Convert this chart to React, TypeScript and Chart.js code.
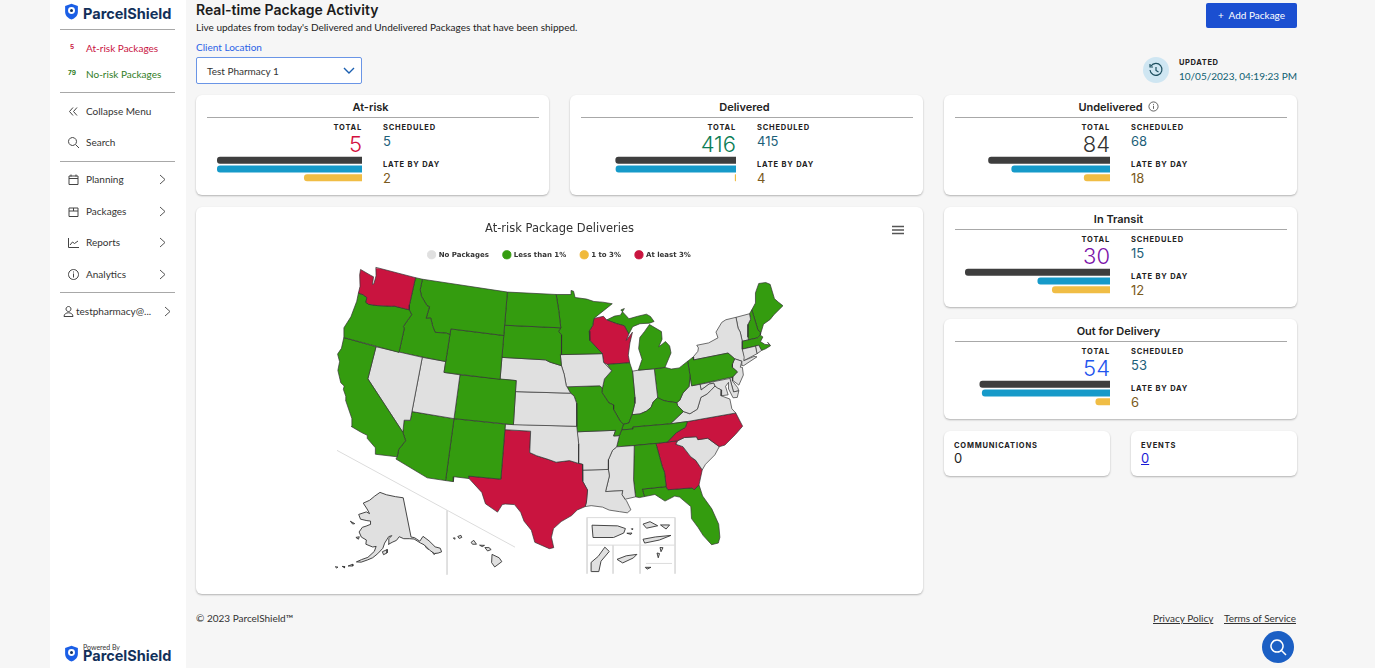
import { useEffect, useRef } from 'react';
import type { CSSProperties, ReactNode } from 'react';
import { Chart, registerables } from 'chart.js';

Chart.register(...registerables);

// package counts per card
const cardTitles = ['At-risk', 'Delivered', 'Undelivered', 'In Transit', 'Out for Delivery'];
const cardTotals = [5, 416, 84, 30, 54];
const cardScheduled = [5, 415, 68, 15, 53];
const cardLate = [2, 4, 18, 12, 6];
const cardAxisMax = [5, 500, 100, 30, 60];
const cardTotalColors = ['#d3103f', '#0b7d55', '#333333', '#7b12a8', '#1f55ee'];
const barLabels = ['Total', 'Scheduled', 'Late by day'];
const barColors = ['#3e3e3e', '#169ac9', '#f0bd45'];

const legendLabels = ['No Packages', 'Less than 1%', '1 to 3%', 'At least 3%'];
const legendColors = ['#e0e0e0', '#349c0f', '#f0b93a', '#c9143f'];

const atLeast3 = ['WA', 'WI', 'TX', 'NC', 'GA'];
const lessThan1 = ['OR', 'CA', 'ID', 'MT', 'WY', 'ND', 'SD', 'MN', 'CO', 'AZ', 'NM', 'MO', 'IL', 'MI', 'OH', 'PA', 'KY', 'TN', 'AL', 'FL', 'ME', 'NH', 'MA'];

// state outlines, lon/lat pairs
const outlines: Record<string, number[][]> = {
  WA: [[-124.7,48.4,-123.1,48.15,-122.7,48.1,-122.55,47.4,-122.4,47.5,-122.4,48.25,-122.75,49,-117.03,49,-117.04,46.43,-116.92,45.99,-118.98,46,-119.3,45.93,-121.2,45.65,-122.3,45.55,-122.75,45.65,-122.8,46.1,-123.4,46.25,-124.05,46.27,-124.1,46.9,-124.6,47.9]],
  OR: [[-124.05,46.27,-123.4,46.25,-122.8,46.1,-122.75,45.65,-122.3,45.55,-121.2,45.65,-119.3,45.93,-118.98,46,-116.92,45.99,-116.47,45.6,-116.85,45,-117.2,44.4,-117.03,44.2,-117.03,42,-124.2,42,-124.55,42.85,-124.1,44,-123.95,45.5]],
  CA: [[-124.2,42,-120,42,-120,39,-114.63,35,-114.14,34.3,-114.72,33.4,-114.72,32.72,-117.12,32.53,-117.3,33.1,-118.4,33.75,-118.5,34.03,-119.2,34.15,-120.5,34.45,-120.65,35.15,-121.9,36.6,-122,36.95,-122.5,37.5,-122.5,37.8,-123,38,-123.75,39,-123.85,39.8,-124.35,40.4,-124.1,41]],
  NV: [[-120,42,-114.04,42,-114.05,36.2,-114.75,36.1,-114.63,35,-120,39]],
  ID: [[-117.03,49,-116.05,49,-116.05,48,-115.7,47.45,-114.7,46.7,-114.35,46.65,-114.5,45.55,-113.9,45.65,-113.45,44.95,-113,44.45,-111.5,44.55,-111.05,44.48,-111.05,42,-117.03,42,-117.03,44.2,-117.2,44.4,-116.85,45,-116.47,45.6,-116.92,45.99,-117.04,46.43]],
  MT: [[-116.05,49,-104.05,49,-104.05,45,-111.05,45,-111.05,44.48,-111.5,44.55,-113,44.45,-113.45,44.95,-113.9,45.65,-114.5,45.55,-114.35,46.65,-114.7,46.7,-115.7,47.45,-116.05,48]],
  WY: [[-111.05,45,-104.05,45,-104.05,41,-111.05,41]],
  UT: [[-114.04,42,-111.05,42,-111.05,41,-109.05,41,-109.05,37,-114.05,37]],
  CO: [[-109.05,41,-102.05,41,-102.05,37,-109.05,37]],
  AZ: [[-114.05,37,-109.05,37,-109.05,31.33,-111.07,31.33,-114.81,32.5,-114.72,32.72,-114.72,33.4,-114.14,34.3,-114.63,35,-114.75,36.1,-114.05,36.2]],
  NM: [[-109.05,37,-103,37,-103.05,32,-106.62,32,-106.53,31.78,-108.2,31.78,-108.2,31.33,-109.05,31.33]],
  ND: [[-104.05,49,-97.23,49,-96.85,47.5,-96.56,45.94,-104.05,45.94]],
  SD: [[-104.05,45.94,-96.56,45.94,-96.85,45.6,-96.45,45.3,-96.45,43.5,-96.6,43.5,-96.45,42.49,-97.9,42.8,-98.5,43,-104.05,43]],
  NE: [[-104.05,43,-98.5,43,-97.9,42.8,-96.45,42.49,-96.1,41.7,-95.85,40.7,-95.31,40,-102.05,40,-102.05,41,-104.05,41]],
  KS: [[-102.05,40,-95.31,40,-94.9,39.75,-94.61,39.1,-94.62,37,-102.05,37]],
  OK: [[-103,37,-94.62,37,-94.43,35.4,-94.48,33.64,-95.5,33.9,-97,33.75,-97.9,34,-99.2,34.3,-100,34.56,-100,36.5,-103,36.5]],
  TX: [[-103,36.5,-100,36.5,-100,34.56,-99.2,34.3,-97.9,34,-97,33.75,-95.5,33.9,-94.48,33.64,-94.04,33.55,-94.04,33.02,-94.04,32,-93.55,31.2,-93.7,30.1,-93.85,29.7,-94.7,29.4,-95.3,28.9,-96.4,28.35,-97.2,27.7,-97.4,26.9,-97.15,25.95,-97.6,25.85,-99.1,26.4,-99.5,27.5,-100.3,28.3,-100.7,29.1,-101.4,29.77,-102.4,29.77,-102.7,29.7,-103.15,28.98,-104.5,29.65,-105,30.65,-106.53,31.78,-106.62,32,-103.05,32]],
  MN: [[-97.23,49,-95.15,49,-95.15,49.38,-94.8,49.3,-94.6,48.72,-93,48.55,-92,48.3,-90.8,48.2,-89.5,48,-92.1,46.75,-92.3,46.1,-92.8,45.6,-92.75,44.75,-91.2,43.5,-96.45,43.5,-96.45,45.3,-96.85,45.6,-96.56,45.94,-96.85,47.5]],
  IA: [[-96.45,43.5,-91.2,43.5,-91.1,42.7,-90.15,41.9,-91.1,41.2,-91.4,40.38,-91.72,40.6,-95.77,40.58,-95.85,40.7,-96.1,41.7,-96.45,42.49,-96.6,43.5]],
  MO: [[-95.77,40.58,-91.72,40.6,-91.4,40.38,-91.5,40,-90.7,39,-90.15,38.8,-90.2,38.4,-89.5,37.3,-89.15,37,-89.4,36.5,-89.7,36,-90.37,36,-90.1,36.5,-94.62,36.5,-94.62,37,-94.61,39.1,-94.9,39.75,-95.31,40]],
  AR: [[-94.62,36.5,-90.1,36.5,-90.37,36,-89.7,36,-90.1,35,-90.6,34.7,-91.1,33.9,-91.17,33,-94.04,33.02,-94.04,33.55,-94.48,33.64,-94.43,35.4]],
  LA: [[-94.04,33.02,-91.17,33,-91.1,32.4,-91.6,31,-89.73,31,-89.85,30.65,-89.55,30.2,-89.4,30.05,-89,29.2,-89.4,28.95,-90.2,29.1,-91.3,29.3,-92,29.6,-93.2,29.77,-93.85,29.7,-93.7,30.1,-93.55,31.2,-94.04,32]],
  MS: [[-90.1,35,-88.2,35,-88.1,34.9,-88.47,31.9,-88.4,30.35,-89.55,30.2,-89.85,30.65,-89.73,31,-91.6,31,-91.1,32.4,-91.17,33,-91.1,33.9,-90.6,34.7]],
  AL: [[-88.2,35,-85.6,35,-85.18,32.87,-85,32.3,-85,31,-87.6,31,-87.45,30.3,-88,30.25,-88.4,30.35,-88.47,31.9,-88.1,34.9]],
  TN: [[-89.7,36,-89.4,36.5,-88.07,36.5,-88.07,36.68,-83.68,36.6,-81.68,36.59,-82,36.1,-83.1,35.75,-84.3,35,-85.6,35,-88.2,35,-90.1,35]],
  KY: [[-89.4,36.5,-89.15,37,-88.5,37.07,-88.05,37.8,-87.1,37.8,-86.3,38,-85.7,38.3,-85.4,38.75,-84.8,39.1,-84.2,38.8,-83.7,38.65,-82.6,38.42,-82.55,38.15,-81.97,37.54,-83.68,36.6,-88.07,36.68,-88.07,36.5]],
  IL: [[-90.65,42.5,-87.8,42.5,-87.55,41.75,-87.53,39.35,-87.6,38.8,-88.05,37.8,-88.5,37.07,-89.15,37,-89.5,37.3,-90.2,38.4,-90.15,38.8,-90.7,39,-91.5,40,-91.4,40.38,-91.1,41.2,-90.15,41.9]],
  WI: [[-92.1,46.75,-90.8,46.9,-90.4,46.55,-89.1,46.15,-88.1,45.9,-87.6,45.1,-88,44.55,-87.1,45.25,-87.55,44.3,-87.9,43.2,-87.8,42.5,-90.65,42.5,-91.1,42.7,-91.2,43.5,-92.75,44.75,-92.8,45.6,-92.3,46.1]],
  MI: [
    [-86.8,41.76,-84.8,41.73,-83.45,41.73,-83.15,42.1,-82.45,42.95,-82.5,43.6,-82.95,44.05,-83.9,43.65,-83.35,44.3,-83.3,45,-84.75,45.78,-85.5,45.2,-86.2,44.7,-86.5,43.7,-86.2,42.7],
    [-90.4,46.55,-89.1,46.15,-88.1,45.9,-87.6,45.1,-87,45.75,-86,45.95,-84.75,45.9,-84.1,46,-84.5,46.5,-85,46.75,-86.2,46.65,-87.4,46.5,-88.4,47.37,-87.9,47.47,-88.5,46.9,-89.3,46.85],
  ],
  IN: [[-87.53,41.72,-86.8,41.76,-84.8,41.73,-84.8,39.1,-85.4,38.75,-85.7,38.3,-86.3,38,-87.1,37.8,-88.05,37.8,-87.6,38.8,-87.53,39.35]],
  OH: [[-84.8,41.73,-83.45,41.73,-82.7,41.5,-81.7,41.5,-80.52,41.98,-80.52,40.64,-80.85,39.7,-81.7,39.2,-82.2,38.6,-82.6,38.42,-83.7,38.65,-84.2,38.8,-84.8,39.1]],
  PA: [[-80.52,41.98,-79.76,42.27,-79.76,42,-75.35,42,-74.7,41.36,-75.1,40.95,-75.2,40.65,-74.72,40.15,-75.4,39.8,-80.52,39.72]],
  WV: [[-80.52,40.64,-80.52,39.72,-79.48,39.72,-79.48,39.2,-78.4,39.6,-77.83,39.6,-77.75,39.32,-78.35,39,-78.85,38.75,-79.65,38.55,-80.3,37.55,-81.25,37.25,-81.97,37.54,-82.55,38.15,-82.6,38.42,-82.2,38.6,-81.7,39.2,-80.85,39.7]],
  VA: [[-83.68,36.6,-81.97,37.54,-81.25,37.25,-80.3,37.55,-79.65,38.55,-78.85,38.75,-78.35,39,-77.75,39.32,-77.5,39.1,-77.05,38.85,-77.25,38.35,-76.3,37.9,-76.3,37,-75.95,36.55,-81.68,36.59]],
  MD: [[-79.48,39.72,-75.79,39.72,-75.7,38.46,-75.05,38.45,-75.4,37.9,-75.9,37.95,-76.2,38.8,-76.05,39.4,-76.5,39.1,-76.4,38.3,-77.25,38.35,-77.05,38.85,-77.5,39.1,-77.75,39.32,-77.83,39.6,-78.4,39.6,-79.48,39.2]],
  DE: [[-75.79,39.72,-75.4,39.8,-75.55,39.45,-75.1,38.75,-75.05,38.45,-75.7,38.46]],
  NJ: [[-74.7,41.36,-73.9,41,-74.25,40.5,-74,40.45,-74.1,39.75,-74.9,38.95,-75.5,39.5,-75.4,39.8,-74.72,40.15,-75.2,40.65,-75.1,40.95]],
  NY: [[-79.76,42.27,-79.05,42.7,-78.9,43,-79.05,43.26,-77.5,43.27,-76.2,43.55,-76.3,44.1,-75.3,44.85,-74.7,45,-73.34,45,-73.4,44,-73.25,43.6,-73.27,42.75,-73.5,42.05,-73.5,41.3,-73.65,41,-72.3,41.15,-71.95,41.05,-73.8,40.57,-74.05,40.65,-73.9,41,-74.7,41.36,-75.35,42,-79.76,42]],
  CT: [[-73.5,42.05,-71.8,42.02,-71.85,41.32,-73.65,41]],
  RI: [[-71.8,42.02,-71.38,42.02,-71.2,41.5,-71.85,41.32]],
  MA: [[-73.5,42.05,-73.27,42.75,-71.3,42.7,-70.85,42.87,-70.6,42.65,-71.05,42.3,-70.6,41.95,-70.05,41.8,-70.2,42.07,-69.95,41.7,-70.65,41.55,-71.2,41.5,-71.38,42.02,-71.8,42.02]],
  VT: [[-73.34,45,-71.5,45.01,-71.55,44.5,-72.05,44.1,-72.45,43,-72.45,42.73,-73.27,42.75,-73.25,43.6,-73.4,44]],
  NH: [[-71.5,45.01,-71.08,45.3,-70.98,43.38,-70.7,43.07,-70.85,42.87,-71.3,42.7,-72.45,42.73,-72.45,43,-72.05,44.1,-71.55,44.5]],
  ME: [[-71.08,45.3,-70.4,45.8,-70.25,46.2,-70,46.7,-69.25,47.45,-68.3,47.35,-67.8,47.07,-67.8,45.7,-67.45,45.3,-67,44.85,-68.5,44.3,-69.1,44,-70.1,43.75,-70.7,43.07,-70.98,43.38]],
  NC: [[-84.3,35,-83.1,35.75,-82,36.1,-81.68,36.59,-75.95,36.55,-75.5,35.25,-76.5,34.65,-77.9,33.9,-78.55,33.86,-79.67,34.8,-80.8,34.82,-80.9,35.1,-82.3,35.2,-83.1,35]],
  SC: [[-83.1,35,-82.3,35.2,-80.9,35.1,-80.8,34.82,-79.67,34.8,-78.55,33.86,-79.2,33.2,-80.4,32.5,-80.85,32.05,-81.4,33,-81.9,33.4,-82.6,34.4,-83.35,34.7]],
  GA: [[-85.6,35,-84.3,35,-83.1,35,-83.35,34.7,-82.6,34.4,-81.9,33.4,-81.4,33,-80.85,32.05,-81.45,30.75,-82.05,30.37,-82.2,30.57,-84.85,30.7,-85,31,-85,32.3,-85.18,32.87]],
  FL: [[-87.6,31,-85,31,-84.85,30.7,-82.2,30.57,-82.05,30.37,-81.45,30.75,-81.25,29.7,-80.5,28.4,-80.05,26.9,-80.15,25.7,-80.4,25.2,-81.1,25.15,-81.8,26.1,-82.2,26.9,-82.75,27.8,-82.65,28.9,-83.7,29.9,-84.2,30.05,-85.3,29.7,-86.3,30.4,-87.45,30.3]],
};

const alaska = [
  [-141,69.65,-141,60.3,-139.5,60,-137.5,58.9,-135.5,59.8,-133.5,58.4,-131.8,56.6,-130,55.9,-130,55,-131.5,55,-133,55.2,-134.5,56.3,-136,57.8,-137.5,58.5,-139.8,59.7,-142,60,-144.5,60.2,-146.5,60.8,-148,60,-149.7,59.7,-151.8,59.2,-151.5,60.5,-150,61.2,-151.5,61,-153.5,59.5,-154.3,58.3,-156.5,57,-158.5,56,-160.5,55.4,-163,54.7,-164.9,54.6,-163,55.3,-160.5,56,-158,57.5,-157.3,58.7,-158.8,58.5,-162,59,-162,60,-164.5,60.5,-166,61.6,-164.8,62.8,-163,63.2,-161,63.7,-161,64.5,-163,64.5,-166.5,64.6,-168,65.6,-164,66.5,-162,66.2,-163.8,67.2,-166.7,68.4,-163,69.3,-160,70.4,-156.5,71.35,-152,70.8,-146,70.2],
  [-154.5,57.5,-152.3,58,-152.5,57.2,-154,56.8],
  [-167,60.2,-165.5,60.5,-165.7,59.9],
  [-171.5,63.6,-169,63.3,-170,63.1],
  [-167.8,53.3,-166.2,53.9,-166,53.5],
  [-170,52.9,-169,53,-169,52.7],
  [-172.5,52.4,-171.5,52.5,-171.8,52.2],
  [-133.7,56,-132.5,56,-132,55.2,-133.3,55],
  [-136,58,-134.8,57.9,-134.8,56.5,-135.5,57],
  [-134.6,58,-133.9,58,-134,57.1,-134.5,57.1],
  [-134.3,56.9,-133.2,57,-133.3,56.3,-134,56.2],
  [-132.7,56.8,-131.9,56.6,-132,56,-132.5,56.1],
  [-135.8,59,-135,58.6,-135.4,58.2,-136.4,58.3],
];

const hawaii = [
  [-155.9,20.25,-155.1,19.9,-154.8,19.5,-155.6,18.95,-155.95,19.4],
  [-156.7,20.95,-156.25,20.95,-156,20.75,-156.4,20.6],
  [-157.3,21.2,-156.75,21.18,-157,21.05],
  [-158.25,21.5,-157.95,21.7,-157.65,21.3,-158.1,21.3],
  [-159.75,22.1,-159.4,22.22,-159.3,22,-159.6,21.9],
  [-160.25,21.95,-160.05,21.95,-160.1,21.8],
];

// territories: lon, lat, lon scale, lat scale, page x, page y of the inset, then rings
const territories: { at: number[]; rings: number[][] }[] = [
  { at: [-67.25, 18.52, 20.5, 22, 592, 526], rings: [[-67.25,18.5,-66,18.47,-65.62,18.35,-65.7,18.15,-66.2,17.95,-67.2,17.95], [-65.55,18.14,-65.3,18.15,-65.35,18.09], [-65.33,18.34,-65.25,18.34,-65.28,18.29]] },
  { at: [-65.05, 18.4, 70, 80, 643, 523], rings: [[-65.05,18.37,-64.95,18.4,-64.84,18.35,-65,18.32], [-64.8,18.36,-64.67,18.36,-64.72,18.31]] },
  { at: [-64.9, 17.8, 82, 75, 643, 535], rings: [[-64.9,17.73,-64.75,17.76,-64.56,17.78,-64.7,17.72,-64.88,17.68]] },
  { at: [144.6, 13.65, 55, 60, 590, 548], rings: [[144.87,13.65,144.95,13.58,144.8,13.42,144.76,13.25,144.63,13.25,144.62,13.4,144.75,13.5]] },
  { at: [-170.83, -14.22, 71, 70, 617, 553], rings: [[-170.83,-14.32,-170.7,-14.27,-170.55,-14.25,-170.6,-14.3,-170.75,-14.37]] },
  { at: [145.2, 15.3, 25, 18, 647, 548], rings: [[145.72,15.28,145.84,15.27,145.76,15.05], [145.6,14.98,145.7,14.95,145.65,14.72], [145.13,14.2,145.36,14.2,145.2,14.1]] },
];

// inset frames and separators on the page, px
const separators = [
  [337, 453, 515, 548], [447, 512, 447, 575],
  [587, 519, 675, 519], [587, 519, 587, 574], [675, 519, 675, 574], [640, 519, 640, 574],
  [587, 546, 675, 546], [613, 546, 613, 574], [646, 564, 672, 564],
];

// map projection fitted to the reference
const MAP_X0 = 565;
const MAP_Y0 = 424;
const MAP_SX = 618;
const MAP_SY = 616;
const CARD_LEFT = 196;
const CARD_RIGHT = 923;
const CARD_TOP = 274.2; // top of the chart area once title + legend are laid out
const CARD_BOTTOM = 594;

const toUnits = (px: number, py: number) => ({ x: (px - MAP_X0) / MAP_SX, y: (MAP_Y0 - py) / MAP_SY });

const rad = Math.PI / 180;
const n = (Math.sin(29.5 * rad) + Math.sin(45.5 * rad)) / 2;
const c = Math.cos(29.5 * rad) ** 2 + 2 * n * Math.sin(29.5 * rad);
const rho0 = Math.sqrt(c - 2 * n * Math.sin(37.5 * rad)) / n;

const albers = (lon: number, lat: number) => {
  const theta = n * (lon + 96) * rad;
  const rho = Math.sqrt(c - 2 * n * Math.sin(lat * rad)) / n;
  return { x: rho * Math.sin(theta), y: rho0 - rho * Math.cos(theta) };
};

const alaskaPoint = (lon: number, lat: number) => {
  const theta = 0.863 * (lon + 154) * rad;
  const rho = 93.2 - lat;
  const X = rho * Math.sin(theta);
  const Y = -rho * Math.cos(theta);
  return toUnits(380 + 4.3 * (X + 0.82), 494 + 4.2 * (-Y - 21.78));
};

const hawaiiPoint = (lon: number, lat: number) => toUnits(460 + 8.9 * (lon + 159.5), 538 + 9.5 * (22.05 - lat));

const ringData = (ring: number[], project: (lon: number, lat: number) => { x: number; y: number }) => {
  const pts = [];
  for (let i = 0; i < ring.length; i += 2) pts.push(project(ring[i], ring[i + 1]));
  pts.push(pts[0]);
  return pts;
};

const shape = (data: { x: number; y: number }[], fillColor: string, borderWidth = 0.7) => ({
  data,
  showLine: true,
  fill: 'shape',
  backgroundColor: fillColor,
  borderColor: '#333333',
  borderWidth,
  pointRadius: 0,
  tension: 0,
  clip: false,
});

const stateColor = (code: string) => {
  if (atLeast3.includes(code)) return legendColors[3];
  if (lessThan1.includes(code)) return legendColors[1];
  return legendColors[0];
};

const mapDatasets = () => {
  const sets: any[] = [];
  legendLabels.forEach((label, i) => {
    sets.push({ label, data: [], backgroundColor: legendColors[i], borderColor: legendColors[i], pointStyle: 'circle' });
  });
  separators.forEach(([x1, y1, x2, y2]) => {
    sets.push({
      data: [toUnits(x1, y1), toUnits(x2, y2)],
      showLine: true,
      borderColor: '#dcdcdc',
      borderWidth: 1,
      pointRadius: 0,
      clip: false,
    });
  });
  Object.entries(outlines).forEach(([code, rings]) => {
    rings.forEach((ring) => sets.push(shape(ringData(ring, albers), stateColor(code))));
  });
  alaska.forEach((ring) => sets.push(shape(ringData(ring, alaskaPoint), legendColors[0], 0.9)));
  hawaii.forEach((ring) => sets.push(shape(ringData(ring, hawaiiPoint), legendColors[0], 0.9)));
  territories.forEach(({ at, rings }) => {
    const [lon0, lat0, sx, sy, px, py] = at;
    const project = (lon: number, lat: number) => toUnits(px + sx * (lon - lon0), py + sy * (lat0 - lat));
    rings.forEach((ring) => sets.push(shape(ringData(ring, project), legendColors[0], 0.9)));
  });
  return sets;
};

const HEAD = 'Inter, "Noto Sans", sans-serif';
const BODY = 'Lato, "Noto Sans", sans-serif';

const abs = (left: number, top: number, extra: CSSProperties = {}): CSSProperties => ({
  position: 'absolute',
  left,
  top,
  whiteSpace: 'nowrap',
  ...extra,
});

const Text = ({ x, y, size = 10, color = '#333', weight = 400, font = BODY, children, style }: {
  x: number; y: number; size?: number; color?: string; weight?: number; font?: string; children: ReactNode; style?: CSSProperties;
}) => (
  <div style={abs(x, y - size * 0.6, { fontFamily: font, fontSize: size, lineHeight: `${size * 1.2}px`, color, fontWeight: weight, ...style })}>{children}</div>
);

const Rule = ({ x, y, w, color = '#a8a8a8' }: { x: number; y: number; w: number; color?: string }) => (
  <div style={abs(x, y, { width: w, height: 1, background: color })} />
);

const MiniBars = ({ index }: { index: number }) => {
  const canvasRef = useRef<HTMLCanvasElement>(null);

  useEffect(() => {
    if (!canvasRef.current) return;
    const chart = new Chart(canvasRef.current, {
      type: 'bar',
      data: {
        labels: barLabels,
        datasets: [{
          data: [cardTotals[index], cardScheduled[index], cardLate[index]],
          backgroundColor: barColors,
          barPercentage: 0.8,
          categoryPercentage: 1,
          borderRadius: { topLeft: 3, bottomLeft: 3, topRight: 0, bottomRight: 0 },
          borderSkipped: false,
        }],
      },
      options: {
        indexAxis: 'y',
        animation: false,
        responsive: false,
        events: [],
        plugins: { legend: { display: false }, tooltip: { enabled: false } },
        scales: {
          x: { display: false, reverse: true, min: 0, max: cardAxisMax[index] },
          y: { display: false },
        },
      },
    });
    return () => chart.destroy();
  }, [index]);

  return <canvas ref={canvasRef} width={145} height={26} style={{ display: 'block' }} />;
};

const Card = ({ index, x, y }: { index: number; x: number; y: number }) => {
  const label: CSSProperties = { letterSpacing: 0.8 };
  const title = cardTitles[index];
  return (
    <div style={abs(x, y, { width: 353, height: 100, background: '#fff', borderRadius: 6, boxShadow: '0 1px 2px rgba(0,0,0,0.28)' })}>
      <div style={abs(0, 5, { width: 349, textAlign: 'center', fontSize: 11, lineHeight: '14px', fontWeight: 600, color: '#222' })}>
        {title}
        {title === 'Undelivered' && (
          <svg width="11" height="11" viewBox="0 0 12 12" style={{ marginLeft: 5, verticalAlign: -1 }}>
            <circle cx="6" cy="6" r="5" fill="none" stroke="#555" strokeWidth="1" />
            <path d="M6 5.2v3.4M6 3.2v1" stroke="#555" strokeWidth="1" />
          </svg>
        )}
      </div>
      <Rule x={11} y={22} w={332} />
      <div style={abs(86, 28, { width: 80, textAlign: 'right', fontSize: 7.5, lineHeight: '10px', fontWeight: 700, color: '#222', ...label })}>TOTAL</div>
      <div style={abs(66, 36, { width: 100, textAlign: 'right', fontSize: 22, lineHeight: '26px', fontWeight: 300, color: cardTotalColors[index] })}>{cardTotals[index]}</div>
      <div style={abs(187, 28, { fontSize: 7.5, lineHeight: '10px', fontWeight: 700, color: '#222', ...label })}>SCHEDULED</div>
      <div style={abs(187, 38, { fontSize: 13, lineHeight: '16px', color: '#1b6079' })}>{cardScheduled[index]}</div>
      <div style={abs(187, 65, { fontSize: 7.5, lineHeight: '10px', fontWeight: 700, color: '#222', ...label })}>LATE BY DAY</div>
      <div style={abs(187, 75, { fontSize: 13, lineHeight: '16px', color: '#7a5a20' })}>{cardLate[index]}</div>
      <div style={abs(21, 61)}><MiniBars index={index} /></div>
    </div>
  );
};

const UsMap = () => {
  const canvasRef = useRef<HTMLCanvasElement>(null);

  useEffect(() => {
    if (!canvasRef.current) return;
    const chart = new Chart(canvasRef.current, {
      type: 'scatter',
      data: { datasets: mapDatasets() },
      options: {
        animation: false,
        responsive: false,
        events: [],
        layout: { padding: 0 },
        plugins: {
          tooltip: { enabled: false },
          title: {
            display: true,
            text: 'At-risk Package Deliveries',
            color: '#333',
            font: { family: '"DejaVu Sans"', size: 11.5, weight: 'normal', lineHeight: 1.25 },
            padding: { top: 15, bottom: 0.4 },
          },
          legend: {
            display: true,
            labels: {
              filter: (item: any) => Boolean(item.text),
              usePointStyle: true,
              boxWidth: 7,
              boxHeight: 5.8,
              padding: 14.5,
              color: '#333',
              font: { family: '"DejaVu Sans"', size: 7, weight: 'bold' },
            },
          },
        },
        scales: {
          x: { type: 'linear', display: false, min: (CARD_LEFT - MAP_X0) / MAP_SX, max: (CARD_RIGHT - MAP_X0) / MAP_SX },
          y: { type: 'linear', display: false, min: (MAP_Y0 - CARD_BOTTOM) / MAP_SY, max: (MAP_Y0 - CARD_TOP) / MAP_SY },
        },
      },
    });
    return () => chart.destroy();
  }, []);

  return <canvas ref={canvasRef} width={727} height={387} style={{ display: 'block' }} />;
};

const Shield = ({ x, y, size = 15 }: { x: number; y: number; size?: number }) => (
  <svg width={size} height={size * 1.15} viewBox="0 0 20 23" style={abs(x, y)}>
    <path d="M10 1l8.5 3v8c0 5-4 8.5-8.5 10-4.5-1.500-8.500-5-8.500-10V4z" fill="#1b5fe6" />
    <circle cx="10" cy="10" r="4.600" fill="#fff" />
    <circle cx="10" cy="10" r="2" fill="#12305a" />
  </svg>
);

const Chevron = ({ x, y }: { x: number; y: number }) => (
  <svg width="7" height="11" viewBox="0 0 7 11" style={abs(x, y - 5.5)}>
    <path d="M1 1l5 4.500-5 4.500" fill="none" stroke="#555" strokeWidth="1" />
  </svg>
);

const Glyph = ({ x, y, d }: { x: number; y: number; d: string }) => (
  <svg width="13" height="13" viewBox="0 0 13 13" style={abs(x, y - 6.5)}>
    <path d={d} fill="none" stroke="#444" strokeWidth="1" />
  </svg>
);

const menu = [
  { label: 'Planning', y: 179, d: 'M2 3h9v8.500H2zM2 5.500h9M4 1.500v2M9 1.500v2' },
  { label: 'Packages', y: 211, d: 'M2 3h9v8.500H2zM2 6h9M6.500 3v3' },
  { label: 'Reports', y: 242, d: 'M1.500 2v9.500H12M3 9l2.500-3 2 1.500L11 5' },
  { label: 'Analytics', y: 274, d: 'M6.500 1.500a5 5 0 1 0 .01 0zM6.500 5.500v4M6.500 3.500v1' },
];

export default function App() {
  useEffect(() => {
    document.body.style.margin = '0';
  }, []);

  return (
    <div style={{ position: 'fixed', left: 0, top: 0, width: 1375, height: 668, overflow: 'hidden', background: '#f6f6f6', fontFamily: HEAD }}>
      {/* sidebar */}
      <div style={abs(50, 0, { width: 136, height: 668, background: '#fff' })} />
      <Shield x={64} y={3} />
      <Text x={83} y={14} size={14.5} weight={700} font={HEAD} color="#12305a">ParcelShield</Text>
      <Rule x={60} y={29} w={115} />
      <Text x={70} y={48} size={6.5} weight={700} font={HEAD} color="#c9143f">5</Text>
      <Text x={86} y={48} color="#c9143f">At-risk Packages</Text>
      <Text x={68} y={74} size={6.5} weight={700} font={HEAD} color="#2f7d1e">79</Text>
      <Text x={86} y={74} color="#2f7d1e">No-risk Packages</Text>
      <Rule x={60} y={92} w={115} />
      <Glyph x={67} y={111} d="M6 2.500L2.500 6.500 6 10.500M10 2.500L6.500 6.500 10 10.500" />
      <Text x={86} y={111}>Collapse Menu</Text>
      <Glyph x={67} y={142} d="M5.500 1.500a4 4 0 1 0 .01 0zM8.500 8.500l3.500 3.500" />
      <Text x={86} y={142}>Search</Text>
      <Rule x={60} y={161} w={115} />
      {menu.map((item) => (
        <div key={item.label}>
          <Glyph x={67} y={item.y} d={item.d} />
          <Text x={86} y={item.y}>{item.label}</Text>
          <Chevron x={159} y={item.y} />
        </div>
      ))}
      <Rule x={60} y={292} w={115} />
      <Glyph x={62} y={311} d="M6.500 1.500a2.500 2.500 0 1 0 .01 0zM2 11.500c0-5 9-5 9 0z" />
      <Text x={76} y={311}>testpharmacy@...</Text>
      <Chevron x={164} y={311} />
      <Shield x={64} y={645} />
      <Text x={83} y={647} size={7} color="#333">Powered By</Text>
      <Text x={83} y={656} size={14.5} weight={700} font={HEAD} color="#12305a">ParcelShield</Text>

      {/* header */}
      <Text x={196} y={10} size={14} weight={600} font={HEAD} color="#1c1c1c">Real-time Package Activity</Text>
      <Text x={196} y={27} color="#222">Live updates from today's Delivered and Undelivered Packages that have been shipped.</Text>
      <div style={abs(1206, 3, { width: 91, height: 25, background: '#1b4fd1', borderRadius: 2, color: '#fff', fontFamily: BODY, fontSize: 10, lineHeight: '25px', textAlign: 'center' })}>+&nbsp;&nbsp;Add Package</div>
      <Text x={196} y={47} color="#2a62e6">Client Location</Text>
      <div style={abs(196, 57, { width: 164, height: 25, border: '1px solid #6a95e6', borderRadius: 2, background: '#fff' })} />
      <Text x={207} y={71} color="#333">Test Pharmacy 1</Text>
      <svg width="12" height="7" viewBox="0 0 12 7" style={abs(343, 67)}>
        <path d="M1 1l5 5 5-5" fill="none" stroke="#1b5fb0" strokeWidth="1.400" />
      </svg>
      <div style={abs(1143, 57, { width: 26, height: 26, borderRadius: 13, background: '#cfe6f2' })} />
      <svg width="16" height="16" viewBox="0 0 16 16" style={abs(1148, 62)}>
        <path d="M3 4a6 6 0 1 1-1 4M2 2v3h3M8 5v3.500l2.500 1.500" fill="none" stroke="#1d4f5f" strokeWidth="1.200" />
      </svg>
      <Text x={1179} y={62} size={7.5} weight={700} font={HEAD} color="#222" style={{ letterSpacing: 0.6 }}>UPDATED</Text>
      <Text x={1179} y={76} color="#0f6072">10/05/2023, 04:19:23 PM</Text>

      {/* cards */}
      <Card index={0} x={196} y={95} />
      <Card index={1} x={570} y={95} />
      <Card index={2} x={944} y={95} />
      <Card index={3} x={944} y={207} />
      <Card index={4} x={944} y={319} />

      <div style={abs(944, 431, { width: 166, height: 45, background: '#fff', borderRadius: 6, boxShadow: '0 1px 2px rgba(0,0,0,0.28)' })} />
      <Text x={954} y={445} size={7.5} weight={700} font={HEAD} color="#222" style={{ letterSpacing: 0.8 }}>COMMUNICATIONS</Text>
      <Text x={954} y={459} size={13} font={HEAD} color="#222">0</Text>
      <div style={abs(1131, 431, { width: 166, height: 45, background: '#fff', borderRadius: 6, boxShadow: '0 1px 2px rgba(0,0,0,0.28)' })} />
      <Text x={1141} y={445} size={7.5} weight={700} font={HEAD} color="#222" style={{ letterSpacing: 0.8 }}>EVENTS</Text>
      <Text x={1141} y={459} size={13} font={HEAD} color="#1a1ad6" style={{ textDecoration: 'underline' }}>0</Text>

      {/* map */}
      <div style={abs(196, 207, { width: 727, height: 387, background: '#fff', borderRadius: 6, boxShadow: '0 1px 2px rgba(0,0,0,0.28)' })}>
        <UsMap />
      </div>
      <svg width="12" height="10" viewBox="0 0 12 10" style={abs(892, 225)}>
        <path d="M0 1.500h12M0 5h12M0 8.500h12" stroke="#555" strokeWidth="1.400" />
      </svg>

      {/* footer */}
      <Text x={196} y={618} color="#333">© 2023 ParcelShield™</Text>
      <Text x={1153} y={618} color="#333" style={{ textDecoration: 'underline' }}>Privacy Policy</Text>
      <Text x={1224} y={618} color="#333" style={{ textDecoration: 'underline' }}>Terms of Service</Text>
      <div style={abs(1262, 631, { width: 32, height: 32, borderRadius: 16, background: '#1b5fc4' })} />
      <svg width="18" height="18" viewBox="0 0 18 18" style={abs(1269, 638)}>
        <path d="M8 2a6 6 0 1 0 .01 0zM12.500 12.500L17 17" fill="none" stroke="#fff" strokeWidth="1.500" />
      </svg>
    </div>
  );
}
